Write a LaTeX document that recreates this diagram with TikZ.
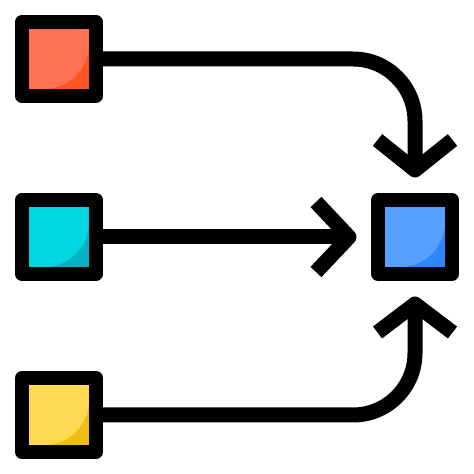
\documentclass[tikz,border=0pt]{standalone}
\usetikzlibrary{calc}
\definecolor{redL}{RGB}{255,115,84}
\definecolor{redD}{RGB}{255,84,36}
\definecolor{cyanL}{RGB}{0,214,224}
\definecolor{cyanD}{RGB}{0,178,194}
\definecolor{yelL}{RGB}{255,217,82}
\definecolor{yelD}{RGB}{238,190,20}
\definecolor{bluL}{RGB}{87,160,255}
\definecolor{bluD}{RGB}{48,134,255}
\begin{document}
\begin{tikzpicture}[x=1pt,y=1pt,
  box/.style={draw=black, line width=14pt, line join=round, minimum size=74pt, inner sep=0pt},
  gloss/.style={path picture={\fill[#1] ([shift={(-37pt,37pt)}]path picture bounding box.center) -- ++(67pt,0pt) -- ++(0pt,-22pt) arc[start angle=0,end angle=-90,radius=45pt] -- ++(-22pt,0pt) -- cycle;}},
  conn/.style={line width=15pt, line cap=butt},
  head/.style={line width=15pt, line join=round, line cap=butt}]
\useasboundingbox (0,0) rectangle (474,474);
\node[box, fill=redD, gloss=redL] (r) at (59,415) {};
\node[box, fill=cyanD, gloss=cyanL] (c) at (59,237) {};
\node[box, fill=yelD, gloss=yelL] (y) at (59,59) {};
\node[box, fill=bluD, gloss=bluL] (b) at (415,237) {};
% arrow tips (vertices)
\coordinate (t1) at (415,304);
\coordinate (t2) at (349,237);
\coordinate (t3) at (415,170);
% shafts
\draw[conn] (r.east) -- (353,415) arc[start angle=90,end angle=0,radius=62pt] -- (t1);
\draw[conn] (c.east) -- (t2);
\draw[conn] (y.east) -- (353,59) arc[start angle=-90,end angle=0,radius=62pt] -- (t3);
% chevrons
\draw[head] ($(t1)+(-37.5,30)$) -- (t1) -- ($(t1)+(37.5,30)$);
\draw[head] ($(t2)+(-33,35)$) -- (t2) -- ($(t2)+(-33,-35)$);
\draw[head] ($(t3)+(-37.5,-28.5)$) -- (t3) -- ($(t3)+(37.5,-28.5)$);
\end{tikzpicture}
\end{document}
